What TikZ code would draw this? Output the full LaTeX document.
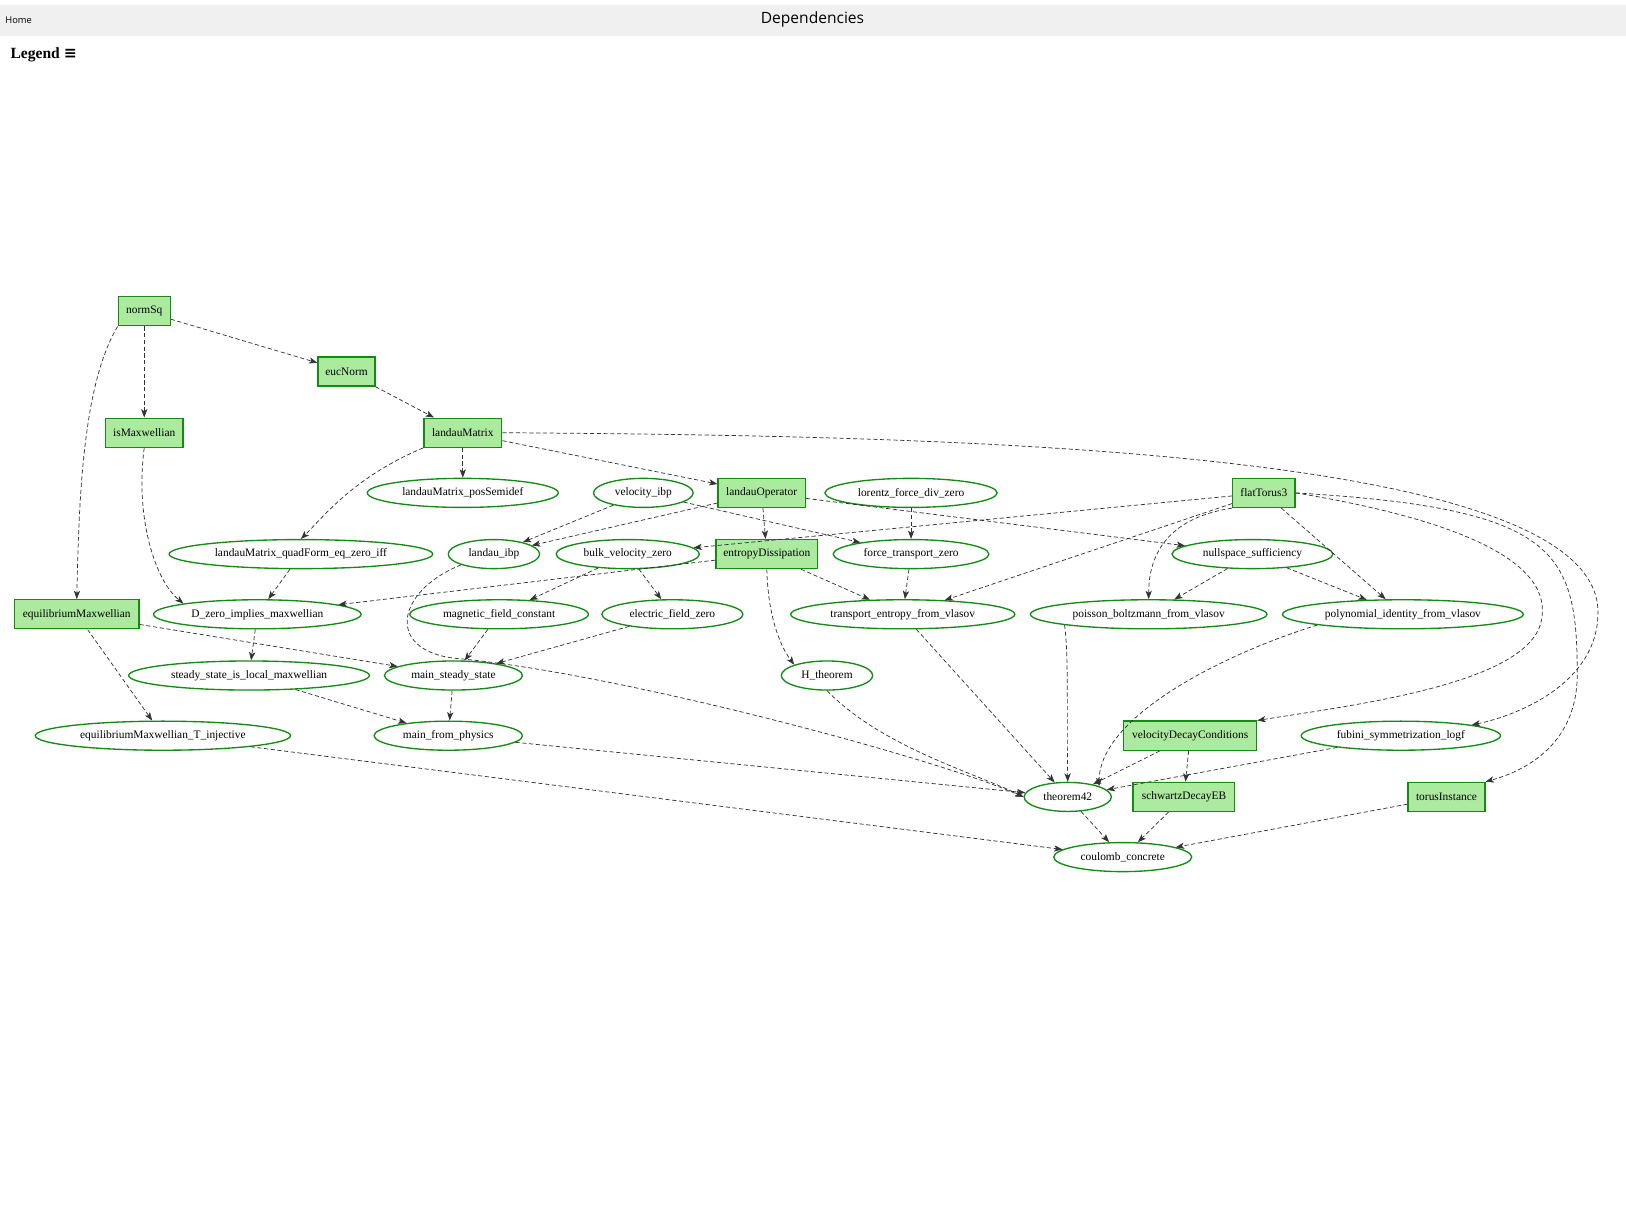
\documentclass[tikz,border=0pt]{standalone}
\usepackage{fontspec}
\setmainfont{Liberation Serif}
\newfontfamily\uifont{Open Sans}
\newfontfamily\symfont{DejaVu Sans}
\usetikzlibrary{arrows.meta,shapes.geometric}
\definecolor{gborder}{RGB}{20,140,20}
\definecolor{gfill}{RGB}{172,234,160}
\begin{document}
\begin{tikzpicture}[x=1pt,y=-1pt,
  every node/.style={font=\fontsize{11}{12}\selectfont, inner sep=0pt},
  box/.style={draw=gborder, fill=gfill, line width=1.3pt, minimum height=28pt},
  ell/.style={draw=gborder, ellipse, line width=1.3pt, minimum height=28pt},
  dep/.style={draw=black!80, dashed, dash pattern=on 4pt off 2.5pt, line width=0.7pt, -{Stealth[length=8pt,width=6pt,inset=2pt]}}]
\useasboundingbox (0,0) rectangle (1567,1179.5);
\fill[black!6] (0,5) rectangle (1567,35);
\node[font=\uifont\fontsize{9}{10}\selectfont, anchor=west] (home) at (5,19) {Home};
\node[font=\uifont\fontsize{15}{16}\selectfont] (title) at (783,19) {Dependencies};
\node[font=\bfseries\fontsize{15}{16}\selectfont, anchor=west] (legend) at (10,53) {Legend {\symfont ≡}};
% boxes
\node[box, minimum width=50pt] (normSq) at (139,300) {normSq};
\node[box, minimum width=55pt] (eucNorm) at (334,358) {eucNorm};
\node[box, minimum width=75pt] (isMax) at (139,417) {isMaxwellian};
\node[box, minimum width=75pt] (lMat) at (446,417) {landauMatrix};
\node[box, minimum width=84pt] (lOp) at (734,475) {landauOperator};
\node[box, minimum width=60pt] (flat) at (1218,475) {flatTorus3};
\node[box, minimum width=98pt] (entD) at (739,534) {entropyDissipation};
\node[box, minimum width=120pt] (eqMax) at (74,592) {equilibriumMaxwellian};
\node[box, minimum width=128pt] (vdc) at (1147,709) {velocityDecayConditions};
\node[box, minimum width=98pt] (sch) at (1141,768) {schwartzDecayEB};
\node[box, minimum width=74pt] (torus) at (1394,768) {torusInstance};
% ellipses
\node[ell, minimum width=184pt] (psd) at (446,475) {landauMatrix\_posSemidef};
\node[ell, minimum width=96pt] (vibp) at (620,475) {velocity\_ibp};
\node[ell, minimum width=166pt] (lor) at (878,475) {lorentz\_force\_div\_zero};
\node[ell, minimum width=254pt] (qf) at (290,534) {landauMatrix\_quadForm\_eq\_zero\_iff};
\node[ell, minimum width=88pt] (libp) at (476,534) {landau\_ibp};
\node[ell, minimum width=138pt] (bulk) at (605,534) {bulk\_velocity\_zero};
\node[ell, minimum width=150pt] (ftz) at (878,534) {force\_transport\_zero};
\node[ell, minimum width=155pt] (null) at (1207,534) {nullspace\_sufficiency};
\node[ell, minimum width=200pt] (dz) at (248,592) {D\_zero\_implies\_maxwellian};
\node[ell, minimum width=172pt] (mag) at (481,592) {magnetic\_field\_constant};
\node[ell, minimum width=136pt] (elec) at (648,592) {electric\_field\_zero};
\node[ell, minimum width=216pt] (tev) at (870,592) {transport\_entropy\_from\_vlasov};
\node[ell, minimum width=228pt] (pb) at (1107,592) {poisson\_boltzmann\_from\_vlasov};
\node[ell, minimum width=232pt] (poly) at (1352,592) {polynomial\_identity\_from\_vlasov};
\node[ell, minimum width=232pt] (ss) at (240,651) {steady\_state\_is\_local\_maxwellian};
\node[ell, minimum width=133pt] (mss) at (437,651) {main\_steady\_state};
\node[ell, minimum width=88pt] (H) at (797,651) {H\_theorem};
\node[ell, minimum width=246pt] (tinj) at (157,709) {equilibriumMaxwellian\_T\_injective};
\node[ell, minimum width=143pt] (mfp) at (432,709) {main\_from\_physics};
\node[ell, minimum width=192pt] (fub) at (1350,709) {fubini\_symmetrization\_logf};
\node[ell, minimum width=84pt] (t42) at (1029,768) {theorem42};
\node[ell, minimum width=133pt] (coul) at (1082,826) {coulomb\_concrete};
% edges
\draw[dep] (normSq) -- (eucNorm);
\draw[dep] (normSq) -- (isMax);
\draw[dep] (normSq.south west) .. controls (80,370) and (76,480) .. (eqMax.north);
\draw[dep] (eucNorm) -- (lMat);
\draw[dep] (lMat) -- (psd);
\draw[dep] (lMat.south west) .. controls (340,460) and (310,500) .. (qf.north);
\draw[dep] (lMat) -- (lOp);
\draw[dep] (lMat.east) .. controls (900,420) and (1540,430) .. (1540,590) .. controls (1540,660) and (1460,690) .. (fub.north east);
\draw[dep] (isMax.south) .. controls (130,500) and (150,560) .. (dz.north west);
\draw[dep] (vibp) -- (libp);
\draw[dep] (vibp) -- (ftz);
\draw[dep] (lOp) -- (libp);
\draw[dep] (lOp) -- (entD);
\draw[dep] (lOp) -- (null);
\draw[dep] (lor) -- (ftz);
\draw[dep] (flat) -- (bulk);
\draw[dep] (flat) -- (tev);
\draw[dep] (flat.south west) .. controls (1120,500) and (1107,540) .. (pb.north);
\draw[dep] (flat) -- (poly);
\draw[dep] (flat.east) .. controls (1400,500) and (1500,540) .. (1485,600) .. controls (1470,660) and (1300,680) .. (vdc.north east);
\draw[dep] (flat.east) .. controls (1500,490) and (1520,530) .. (1520,650) .. controls (1520,710) and (1480,740) .. (torus.north east);
\draw[dep] (qf) -- (dz);
\draw[dep] (libp.south west) .. controls (380,570) and (370,630) .. (445,635) .. controls (600,650) and (900,730) .. (t42.west);
\draw[dep] (bulk) -- (mag);
\draw[dep] (bulk) -- (elec);
\draw[dep] (entD) -- (dz);
\draw[dep] (entD) -- (tev);
\draw[dep] (entD.south) .. controls (740,590) and (750,620) .. (H.north west);
\draw[dep] (ftz) -- (tev);
\draw[dep] (null) -- (pb);
\draw[dep] (null) -- (poly);
\draw[dep] (eqMax) -- (mss);
\draw[dep] (eqMax) -- (tinj);
\draw[dep] (dz) -- (ss);
\draw[dep] (mag) -- (mss);
\draw[dep] (elec) -- (mss);
\draw[dep] (tev) -- (t42);
\draw[dep] (pb.south west) .. controls (1030,630) and (1028,700) .. (t42.north);
\draw[dep] (poly.south west) .. controls (1180,630) and (1060,690) .. (t42.north east);
\draw[dep] (ss) -- (mfp);
\draw[dep] (mss) -- (mfp);
\draw[dep] (H.south) .. controls (850,720) and (940,745) .. (t42.west);
\draw[dep] (tinj) -- (coul);
\draw[dep] (mfp) -- (t42);
\draw[dep] (vdc) -- (t42);
\draw[dep] (vdc) -- (sch);
\draw[dep] (fub) -- (t42);
\draw[dep] (t42) -- (coul);
\draw[dep] (sch) -- (coul);
\draw[dep] (torus) -- (coul);
\end{tikzpicture}
\end{document}
